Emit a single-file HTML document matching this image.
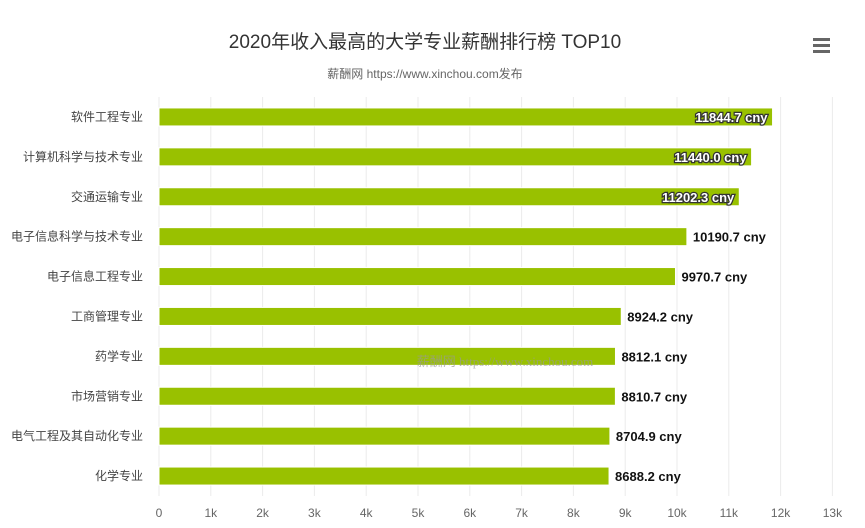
<!DOCTYPE html>
<html><head><meta charset="utf-8"><style>
body{margin:0;background:#fff;font-family:"Liberation Sans","Noto Sans CJK SC",sans-serif;}
</style></head><body>
<svg width="865" height="523" id="c" xmlns="http://www.w3.org/2000/svg">
<text x="425" y="48" text-anchor="middle" font-size="19" fill="#333" font-family="Liberation Sans, Noto Sans CJK SC, sans-serif">2020年收入最高的大学专业薪酬排行榜 TOP10</text>
<text x="425" y="78" text-anchor="middle" font-size="12" fill="#666" font-family="Liberation Sans, Noto Sans CJK SC, sans-serif">薪酬网 https://www.xinchou.com发布</text>
<g fill="#666">
<rect x="813" y="38" width="17" height="3"/><rect x="813" y="44" width="17" height="3"/><rect x="813" y="50" width="17" height="3"/>
</g>
<g id="grid"></g><g id="bars"></g><g id="labels"></g>
<text x="505" y="366" text-anchor="middle" font-size="13" fill="#999" opacity="0.7" font-family="Liberation Serif, Noto Sans CJK SC, serif">薪酬网 https://www.xinchou.com</text>
</svg>
<script>
const categories=["软件工程专业","计算机科学与技术专业","交通运输专业","电子信息科学与技术专业","电子信息工程专业","工商管理专业","药学专业","市场营销专业","电气工程及其自动化专业","化学专业"];
const values=[11844.7,11440.0,11202.3,10190.7,9970.7,8924.2,8812.1,8810.7,8704.9,8688.2];
const ticks=[0,1000,2000,3000,4000,5000,6000,7000,8000,9000,10000,11000,12000,13000];
const tickLabels=["0","1k","2k","3k","4k","5k","6k","7k","8k","9k","10k","11k","12k","13k"];
const NS="http://www.w3.org/2000/svg";
const x0=159,pxPerK=51.8,plotTop=97,step=39.9,barH=18;
const xs=v=>x0+v/1000*pxPerK;
const yc=i=>plotTop+step*(i+0.5);
function mk(t,a,p){const e=document.createElementNS(NS,t);for(const k in a)e.setAttribute(k,a[k]);p.appendChild(e);return e;}
const g=document.getElementById('grid'),b=document.getElementById('bars'),l=document.getElementById('labels');
ticks.forEach((t,i)=>{
 const ln=mk('line',{x1:xs(t),x2:xs(t),y1:plotTop,y2:plotTop+step*10,stroke:'#ebebeb','stroke-width':1},g);
 
 
 const tx=mk('text',{x:xs(t),y:517,'text-anchor':'middle','font-size':12,fill:'#666'},g);
 tx.textContent=tickLabels[i];
 
 
});
categories.forEach((c,i)=>{
 const y=yc(i);
 const ct=mk('text',{x:143,y:y+4,'text-anchor':'end','font-size':12,fill:'#444'},l);
 ct.textContent=c;
 
 
 const r=mk('rect',{x:x0,y:y-barH/2,width:xs(values[i])-x0,height:barH,fill:'#99c100',stroke:'#fff','stroke-width':1},b);
 
 
 const inside=values[i]>11000;
 const txt=values[i].toFixed(1)+' cny';
 const vt=mk('text',{x:inside?xs(values[i])-5:xs(values[i])+6,y:y+5,'text-anchor':inside?'end':'start','font-size':13,'font-weight':'bold',fill:inside?'#fff':'#111'},l);
 if(inside){vt.setAttribute('stroke','#333');vt.setAttribute('stroke-width','2.5');vt.setAttribute('paint-order','stroke');}
 vt.textContent=txt;
 
 
});
</script>
</body></html>
